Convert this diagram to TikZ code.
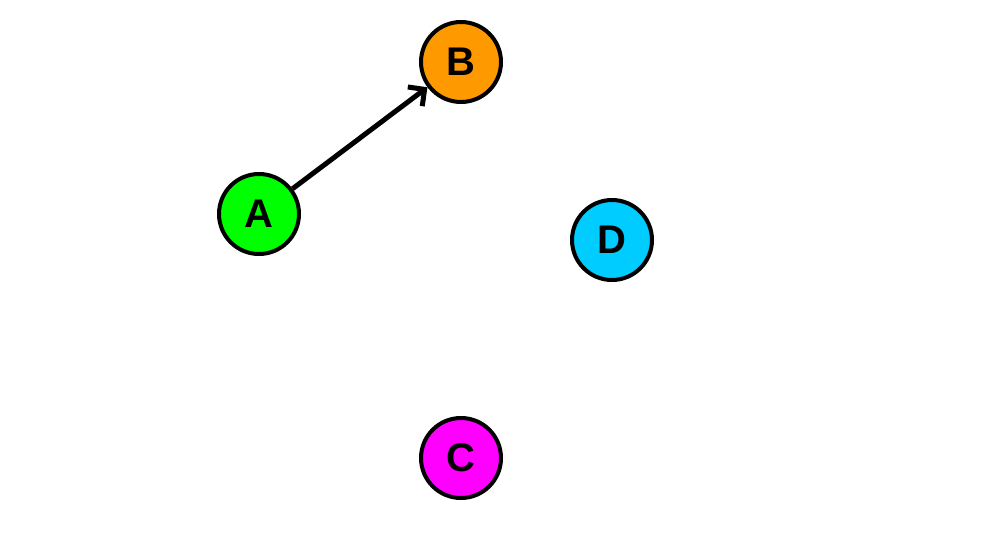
\documentclass[tikz,border=0pt]{standalone}
\usepackage{fontspec}
\setmainfont{Liberation Sans}
\usetikzlibrary{arrows.meta}
\begin{document}
\begin{tikzpicture}[x=1pt,y=-1pt,
  vtx/.style={circle,draw=black,line width=4pt,minimum size=80pt,inner sep=0pt,font=\fontsize{40}{40}\selectfont\bfseries},
  edge/.style={line width=5pt,-{Straight Barb[length=12pt,width=24pt,line width=5pt]}}]
\useasboundingbox (0,0) rectangle (992,534);
\node[vtx,fill={rgb,255:red,0;green,255;blue,0}] (A) at (259,214) {A};
\node[vtx,fill={rgb,255:red,255;green,153;blue,0}] (B) at (461,62) {B};
\node[vtx,fill={rgb,255:red,255;green,0;blue,255}] (C) at (461,458) {C};
\node[vtx,fill={rgb,255:red,0;green,204;blue,255}] (D) at (612,240) {D};
\draw[edge] (A) -- (B);
\end{tikzpicture}
\end{document}
